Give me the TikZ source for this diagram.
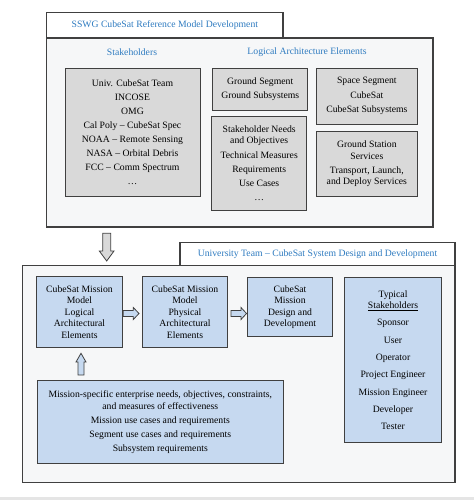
\documentclass[tikz,border=0pt]{standalone}
\usepackage{fontspec}
\setmainfont{Liberation Serif}
\definecolor{edge}{HTML}{404040}
\definecolor{outerfill}{HTML}{F6F7F8}
\definecolor{grayfill}{HTML}{D9D9D9}
\definecolor{bluefill}{HTML}{C6D9F0}
\definecolor{titleblue}{HTML}{2E7BC0}
\begin{document}
\begin{tikzpicture}[x=1pt,y=-1pt,
  every node/.style={font=\fontsize{9.7}{11.5}\selectfont, align=center, inner sep=0pt},
  outerbox/.style={draw=edge, line width=1.1pt, fill=outerfill},
  tabbox/.style={draw=edge, line width=1.1pt, fill=white},
  graybox/.style={draw=edge, line width=0.9pt, fill=grayfill},
  bluebox/.style={draw=edge, line width=0.9pt, fill=bluefill},
  titletext/.style={text=titleblue},
  grayarrow/.style={draw=edge, line width=0.8pt, fill=grayfill},
  bluearrow/.style={draw=edge, line width=0.8pt, fill=bluefill}]
\useasboundingbox (0,0) rectangle (474,500);
\fill[white] (0,0) rectangle (474,500);
\fill[black!10] (0,496.5) rectangle (474,500);

% ---------- top panel ----------
\node[outerbox, minimum width=386.3pt, minimum height=189pt] (main1) at (239.85,132.5) {};
\node[tabbox, minimum width=236.3pt, minimum height=25.3pt, titletext] (tab1) at (164.85,25.35) {SSWG CubeSat Reference Model Development};
\node[titletext] (stklabel) at (132,52) {Stakeholders};
\node[titletext] (lalabel) at (307,52) {Logical Architecture Elements};

\node[graybox, minimum width=135pt, minimum height=128pt] (stk) at (132.5,132)
  {Univ. CubeSat Team\\[2.5pt] INCOSE\\[2.5pt] OMG\\[2.5pt] Cal Poly -- CubeSat Spec\\[2.5pt] NOAA -- Remote Sensing\\[2.5pt] NASA -- Orbital Debris\\[2.5pt] FCC -- Comm Spectrum\\[2.5pt] \dots};
\node[graybox, minimum width=95pt, minimum height=42pt] (gs) at (260.2,89)
  {Ground Segment\\[2.8pt] Ground Subsystems};
\node[graybox, minimum width=95pt, minimum height=93.3pt] (needs) at (259.2,163.35)
  {Stakeholder Needs\\ and Objectives\\[2.8pt] Technical Measures\\[2.8pt] Requirements\\[2.8pt] Use Cases\\[2.8pt] \dots};
\node[graybox, minimum width=101.7pt, minimum height=56pt] (ss) at (366.85,96)
  {Space Segment\\[2.8pt] CubeSat\\[2.8pt] CubeSat Subsystems};
\node[graybox, minimum width=101.7pt, minimum height=64.3pt] (gss) at (366.85,163.85)
  {Ground Station\\ Services\\[2.8pt] Transport, Launch,\\ and Deploy Services};

% ---------- down arrow ----------
\draw[grayarrow] (102.7,233.3) -- (110.7,233.3) -- (110.7,251) -- (114,251) -- (106.7,261)
  -- (99.3,251) -- (102.7,251) -- cycle;

% ---------- bottom panel ----------
\node[outerbox, minimum width=432.3pt, minimum height=217pt] (main2) at (238.85,374.2) {};
\node[tabbox, minimum width=275pt, minimum height=23.4pt, titletext] (tab2) at (317.5,254)
  {University Team -- CubeSat System Design and Development};

\node[bluebox, minimum width=85.6pt, minimum height=70.6pt] (b1) at (79.5,312)
  {CubeSat Mission\\ Model\\ Logical\\ Architectural\\ Elements};
\node[bluebox, minimum width=85.4pt, minimum height=70.6pt] (b2) at (185,312)
  {CubeSat Mission\\ Model\\ Physical\\ Architectural\\ Elements};
\node[bluebox, minimum width=85.4pt, minimum height=59.4pt] (b3) at (290,307)
  {CubeSat\\ Mission\\ Design and\\ Development};
\node[bluebox, minimum width=97.4pt, minimum height=164.6pt] (typ) at (393,360)
  {Typical\\ \underline{Stakeholders}\\[5.8pt] Sponsor\\[5.8pt] User\\[5.8pt] Operator\\[5.8pt] Project Engineer\\[5.8pt] Mission Engineer\\[5.8pt] Developer\\[5.8pt] Tester};
\node[bluebox, minimum width=246pt, minimum height=82.6pt] (bot) at (160.3,422)
  {Mission-specific enterprise needs, objectives, constraints,\\ and measures of effectiveness\\[2.5pt] Mission use cases and requirements\\[2.5pt] Segment use cases and requirements\\[2.5pt] Subsystem requirements};

% ---------- block arrows ----------
\draw[bluearrow] (123.3,310.5) -- (133.3,310.5) -- (133.3,307.5) -- (139,313.5) -- (133.3,319.5)
  -- (133.3,316.5) -- (123.3,316.5) -- cycle;
\draw[bluearrow] (231,310.5) -- (241,310.5) -- (241,307.5) -- (246.5,313.5) -- (241,319.5)
  -- (241,316.5) -- (231,316.5) -- cycle;
\draw[bluearrow] (78,375) -- (78,362) -- (76,362) -- (81,353.3) -- (86,362) -- (84,362)
  -- (84,375) -- cycle;
\end{tikzpicture}
\end{document}
